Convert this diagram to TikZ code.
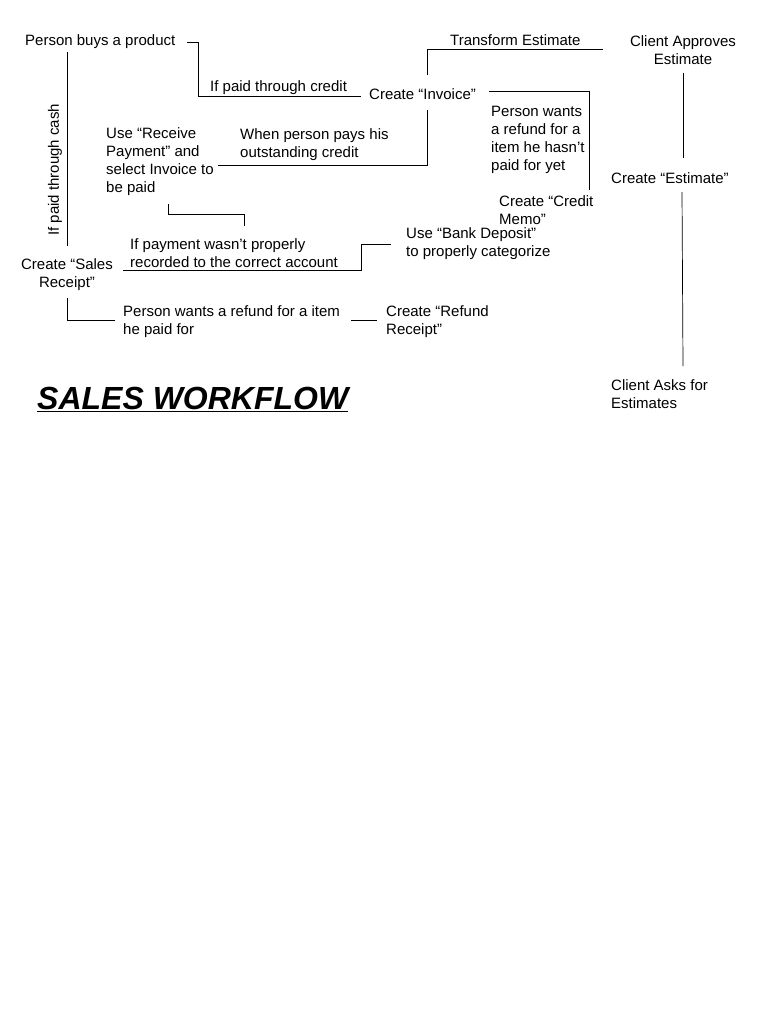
\documentclass[tikz,border=0pt]{standalone}
\usepackage{fontspec}
\setmainfont{Liberation Sans}
\begin{document}
\begin{tikzpicture}[x=1pt,y=-1pt,
  lbl/.style={anchor=west,align=left,inner sep=0pt,yshift=-2pt,font=\fontsize{15}{18}\selectfont},
  clbl/.style={align=center,inner sep=0pt,yshift=-2pt,font=\fontsize{15}{18}\selectfont},
  wire/.style={draw=black,line width=0.7pt}]
\useasboundingbox (0,0) rectangle (768,1024);
\node[lbl] (buy) at (25,40) {Person buys a product};
\node[lbl] (credit) at (210,86) {If paid through credit};
\node[lbl] (inv) at (369,92) {Create “Invoice”};
\node[lbl] (pays) at (240,143) {When person pays his\\outstanding credit};
\node[lbl] (recv) at (106,160) {Use “Receive\\Payment” and\\select Invoice to\\be paid};
\node[anchor=west,align=left,inner sep=0pt,font=\fontsize{15}{18}\selectfont,rotate=90] (cash) at (55,236) {If paid through cash};
\node[clbl] (sales) at (67,273) {Create “Sales\\Receipt”};
\node[lbl] (notrec) at (130,251) {If payment wasn’t properly\\recorded to the correct account};
\node[lbl] (bank) at (406,242) {Use “Bank Deposit”\\to properly categorize};
\node[lbl] (refund) at (123,320) {Person wants a refund for a item\\he paid for};
\node[lbl] (rrec) at (386,320) {Create “Refund\\Receipt”};
\node[anchor=west,inner sep=0pt,font=\fontsize{32}{36}\selectfont\bfseries\itshape] (title) at (37,399) {\underline{SALES WORKFLOW}};
\node[lbl] (trans) at (450,38) {Transform Estimate};
\node[clbl] (appr) at (683,48) {Client Approves\\Estimate};
\node[lbl] (est) at (611,176) {Create “Estimate”};
\node[lbl] (asks) at (611,392) {Client Asks for\\Estimates};
\node[lbl] (want) at (491,138) {Person wants\\a refund for a\\item he hasn’t\\paid for yet};
\node[lbl] (memo) at (499,208) {Create “Credit\\Memo”};
% connectors
\coordinate (a1) at (187,42); \coordinate (a2) at (361,96);
\draw[wire] (a1) -- (198,42) -- (198,96) -- (a2);
\coordinate (b1) at (427,110); \coordinate (b2) at (218,165);
\draw[wire] (b1) -- (427,165) -- (b2);
\coordinate (c1) at (168,204); \coordinate (c2) at (244,226);
\draw[wire] (c1) -- (168,214) -- (244,214) -- (c2);
\coordinate (d1) at (67,52); \coordinate (d2) at (67,246);
\draw[wire] (d1) -- (d2);
\coordinate (e1) at (123,270); \coordinate (e2) at (391,244);
\draw[wire] (e1) -- (361,270) -- (361,244) -- (e2);
\coordinate (f1) at (67,298); \coordinate (f2) at (115,320);
\draw[wire] (f1) -- (67,320) -- (f2);
\coordinate (g1) at (351,320); \coordinate (g2) at (377,320);
\draw[wire] (g1) -- (g2);
\coordinate (h1) at (427,75); \coordinate (h2) at (603,49);
\draw[wire] (h1) -- (427,49) -- (h2);
\coordinate (i1) at (683,73); \coordinate (i2) at (683,158);
\draw[wire] (i1) -- (i2);
\coordinate (j1) at (682,192); \coordinate (j2) at (683,366);
\draw[wire] (j1) -- (j2);
\coordinate (k1) at (489,91); \coordinate (k2) at (589,190);
\draw[wire] (k1) -- (589,91) -- (k2);
\end{tikzpicture}
\end{document}
